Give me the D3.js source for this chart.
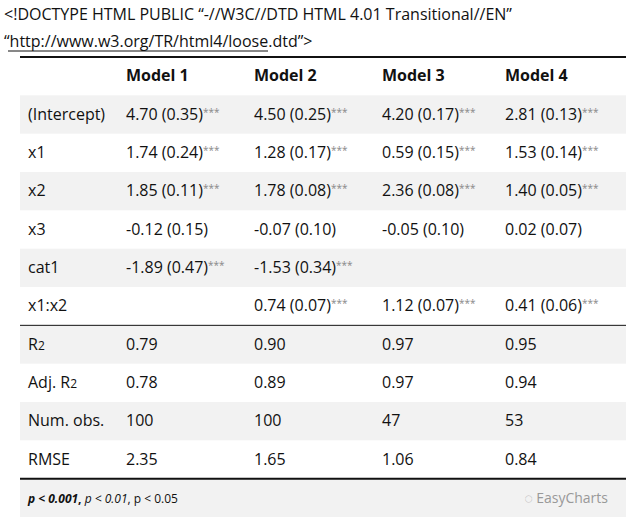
<!DOCTYPE html>
<html><head><meta charset="utf-8">
<script src="https://cdn.jsdelivr.net/npm/d3@7"></script>
<style>body{margin:0;background:#fff;font-family:"Open Sans",sans-serif;}</style>
</head><body>
<script>
var models = ["Model 1", "Model 2", "Model 3", "Model 4"];
var coefNames = ["(Intercept)", "x1", "x2", "x3", "cat1", "x1:x2"];
// [estimate, se, stars] per model, null when absent
var coefs = [
  [["4.70","0.35","***"], ["4.50","0.25","***"], ["4.20","0.17","***"], ["2.81","0.13","***"]],
  [["1.74","0.24","***"], ["1.28","0.17","***"], ["0.59","0.15","***"], ["1.53","0.14","***"]],
  [["1.85","0.11","***"], ["1.78","0.08","***"], ["2.36","0.08","***"], ["1.40","0.05","***"]],
  [["-0.12","0.15",""], ["-0.07","0.10",""], ["-0.05","0.10",""], ["0.02","0.07",""]],
  [["-1.89","0.47","***"], ["-1.53","0.34","***"], null, null],
  [null, ["0.74","0.07","***"], ["1.12","0.07","***"], ["0.41","0.06","***"]]
];
var gofNames = ["R2", "Adj. R2", "Num. obs.", "RMSE"];
var gofs = [
  ["0.79", "0.90", "0.97", "0.95"],
  ["0.78", "0.89", "0.97", "0.94"],
  ["100", "100", "47", "53"],
  ["2.35", "1.65", "1.06", "0.84"]
];

var W = 626, H = 520, fs = 16;
var svg = d3.select("body").append("svg").attr("width", W).attr("height", H);

svg.append("text").attr("x", 4).attr("y", 20).attr("font-size", fs).attr("fill", "#111")
  .text("<!DOCTYPE HTML PUBLIC \u201c-//W3C//DTD HTML 4.01 Transitional//EN\u201d");
var t2 = svg.append("text").attr("x", 4).attr("y", 47).attr("font-size", fs).attr("fill", "#111");
t2.append("tspan").text("\u201c");
t2.append("tspan").text("http://www.w3.org/TR/html4/loose.dtd");
t2.append("tspan").text("\u201d>");
svg.append("line").attr("x1", 8).attr("x2", 268).attr("y1", 51).attr("y2", 51).attr("stroke", "#111");

var rows = ["head"].concat(coefNames, gofNames, ["foot"]);
var y = d3.scaleBand().domain(rows).range([57, 517]);
var colX = {label: 28, "Model 1": 126, "Model 2": 254, "Model 3": 382, "Model 4": 505};

svg.selectAll("rect.shade").data(rows.filter(function(r, i) { return i % 2 === 1; }))
  .enter().append("rect").attr("class", "shade")
  .attr("x", 20).attr("width", W - 20)
  .attr("y", function(r) { return y(r); }).attr("height", y.bandwidth())
  .attr("fill", "#f2f2f2");

function mid(r) { return y(r) + y.bandwidth() / 2 + 5; }

svg.selectAll("text.hd").data(models).enter().append("text")
  .attr("x", function(m) { return colX[m]; }).attr("y", mid("head"))
  .attr("font-size", fs).attr("font-weight", "bold").attr("fill", "#111").text(function(m) { return m; });

function label(g, name) {
  if (name === "R2" || name === "Adj. R2") {
    g.text(name.slice(0, -1));
    g.append("tspan").attr("font-size", 12).text("2");
  } else g.text(name);
}

coefNames.forEach(function(name, i) {
  label(svg.append("text").attr("x", colX.label).attr("y", mid(name)).attr("font-size", fs).attr("fill", "#111"), name);
  coefs[i].forEach(function(c, j) {
    if (!c) return;
    var t = svg.append("text").attr("x", colX[models[j]]).attr("y", mid(name)).attr("font-size", fs).attr("fill", "#111");
    t.append("tspan").text(c[0] + " (" + c[1] + ")");
    if (c[2]) t.append("tspan").attr("font-size", 10).attr("fill", "#888").attr("dy", -4).text(c[2]);
  });
});

gofNames.forEach(function(name, i) {
  label(svg.append("text").attr("x", colX.label).attr("y", mid(name)).attr("font-size", fs).attr("fill", "#111"), name);
  gofs[i].forEach(function(v, j) {
    svg.append("text").attr("x", colX[models[j]]).attr("y", mid(name)).attr("font-size", fs).attr("fill", "#111").text(v);
  });
});

svg.append("line").attr("x1", 20).attr("x2", W).attr("y1", y("head")).attr("y2", y("head")).attr("stroke", "#111").attr("stroke-width", 2);
svg.append("line").attr("x1", 20).attr("x2", W).attr("y1", y("R2")).attr("y2", y("R2")).attr("stroke", "#111").attr("stroke-width", 1);
svg.append("line").attr("x1", 20).attr("x2", W).attr("y1", y("foot")).attr("y2", y("foot")).attr("stroke", "#111").attr("stroke-width", 2);

var f = svg.append("text").attr("x", colX.label).attr("y", mid("foot")).attr("font-size", 12).attr("fill", "#111");
f.append("tspan").attr("font-style", "italic").attr("font-weight", "bold").text("p < 0.001");
f.append("tspan").attr("font-weight", "bold").text(", ");
f.append("tspan").attr("font-style", "italic").text("p < 0.01");
f.append("tspan").text(", p < 0.05");

svg.append("text").attr("x", 608).attr("y", mid("foot")).attr("text-anchor", "end")
  .attr("font-size", 14).attr("fill", "#999").text("\u25CC EasyCharts");
</script>
</body></html>
